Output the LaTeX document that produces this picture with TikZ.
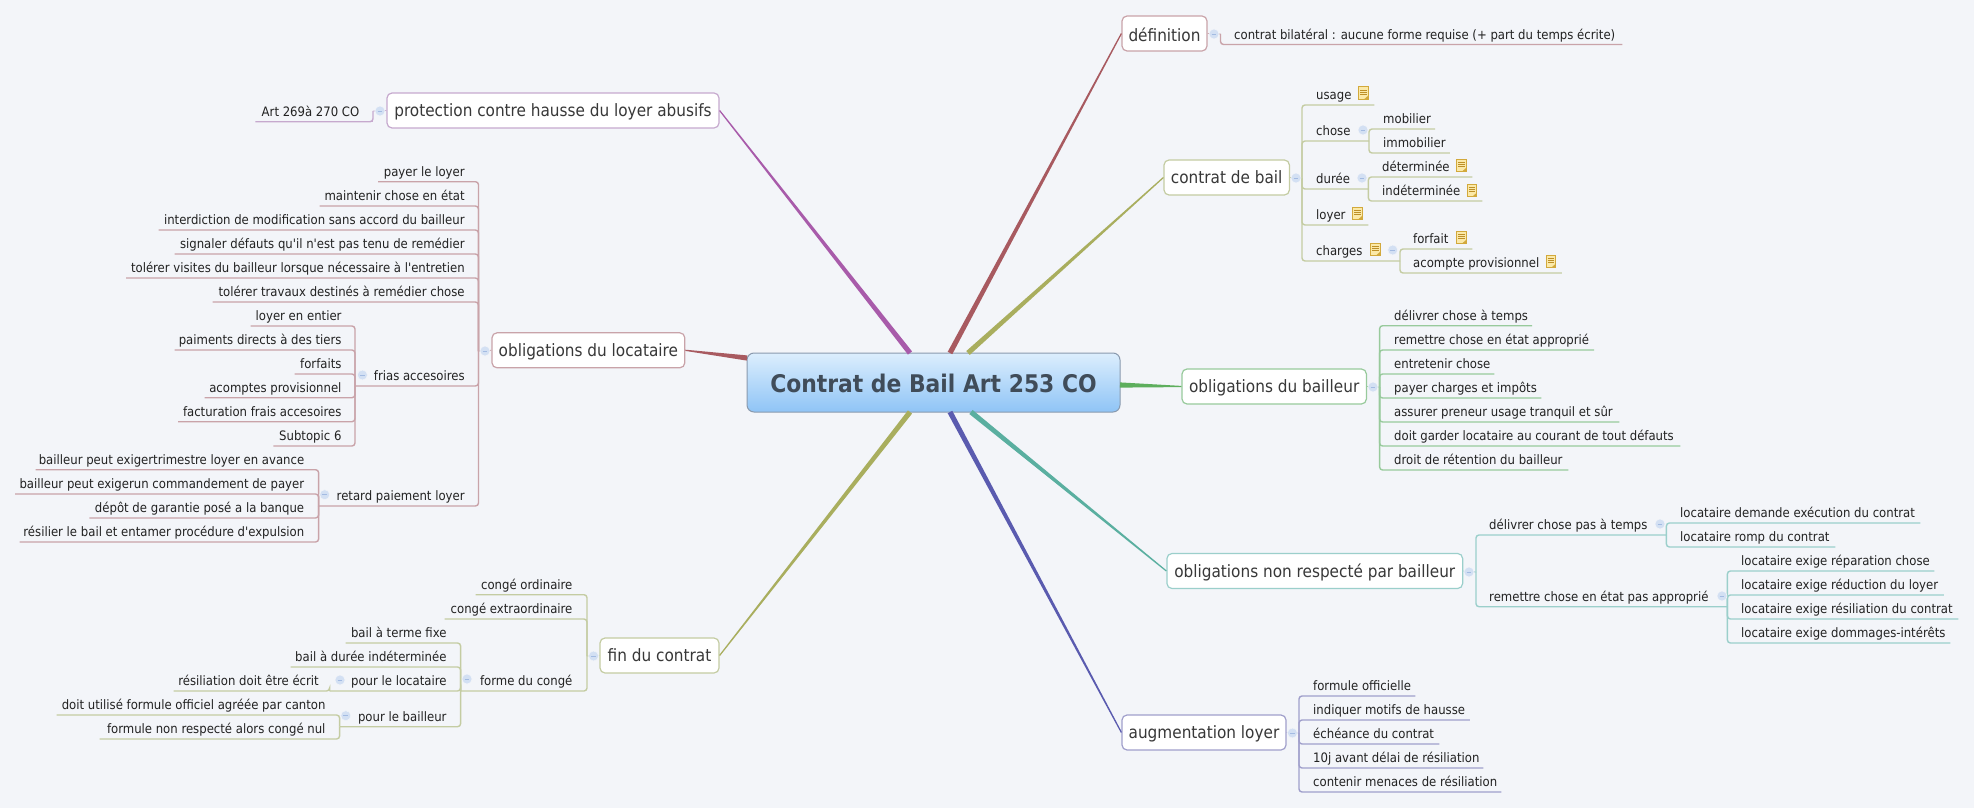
\documentclass[tikz,border=0pt]{standalone}
\usepackage{fontspec}
\setmainfont{DejaVu Sans Condensed}
\usetikzlibrary{calc}
\definecolor{bgc}{HTML}{F3F5F9}
\definecolor{txt}{HTML}{222222}
\definecolor{brR}{HTML}{A85A60}\definecolor{lnR}{HTML}{C9A3A9}
\definecolor{brP}{HTML}{A85BAA}\definecolor{lnP}{HTML}{C6A9CE}
\definecolor{brO}{HTML}{A9AE5E}\definecolor{lnO}{HTML}{C4CCA2}
\definecolor{brG}{HTML}{5DAE5D}\definecolor{lnG}{HTML}{98CA9C}
\definecolor{brT}{HTML}{5AAFA0}\definecolor{lnT}{HTML}{9BCFCB}
\definecolor{brB}{HTML}{5A5BAF}\definecolor{lnB}{HTML}{A09FCB}
\definecolor{btnf}{HTML}{D3E0F3}\definecolor{btnm}{HTML}{A3BBE2}
\definecolor{ctop}{HTML}{DCEEFD}\definecolor{cbot}{HTML}{8FC4F6}
\definecolor{cdraw}{HTML}{8A9AAE}\definecolor{ctxt}{HTML}{404C59}
\definecolor{noteb}{HTML}{D2A93C}\definecolor{notef}{HTML}{FBE9A8}\definecolor{notel}{HTML}{BD8F28}
\tikzset{
  leaf/.style={inner xsep=0pt,inner ysep=2pt,text height=9pt,text depth=3pt,text=txt,font=\fontsize{13}{15}\selectfont},
  conn/.style={draw=#1,line width=1.4pt,rounded corners=3pt},
  topic/.style={draw=#1,fill=white,line width=1.2pt,rounded corners=5pt,inner sep=0pt,text=txt!90,text height=14.5pt,text depth=2pt,font=\fontsize{17}{20}\selectfont},
  btn/.style={circle,fill=btnf,draw=bgc,line width=.5pt,minimum size=10pt,inner sep=0pt,
    path picture={\draw[color=btnm,line width=.9pt] ([xshift=-2.4pt]path picture bounding box.center) -- ([xshift=2.4pt]path picture bounding box.center);}},
  noteic/.style={rectangle,draw=noteb,fill=notef,line width=1pt,minimum width=9.5pt,minimum height=12pt,inner sep=0pt,
    path picture={\foreach \d in {3,1,-1}{\draw[color=notel,line width=.7pt] ([xshift=-3.2pt,yshift=\d pt]path picture bounding box.center) -- ([xshift=3.2pt,yshift=\d pt]path picture bounding box.center);}
      \fill[color=noteb] ([xshift=5pt,yshift=-6pt]path picture bounding box.center) -- ([xshift=1pt,yshift=-6pt]path picture bounding box.center) -- ([xshift=5pt,yshift=-2.5pt]path picture bounding box.center) -- cycle;}},
}
\newcommand\leafR[7]{\pgfmathsetmacro\lw{#5-#4}
  \node[leaf,anchor=south west] (#1) at (#4,#6) {\makebox[\lw pt][l]{#7}};
  \draw[conn=#2] (#3) |- (#1.south east);}
\newcommand\leafL[7]{\pgfmathsetmacro\lw{#4-#5}
  \node[leaf,anchor=south east] (#1) at (#4,#6) {\makebox[\lw pt][r]{#7}};
  \draw[conn=#2] (#3) |- (#1.south west);}
\newcommand\branch[3]{\fill[#1] ($(#2)!2.6pt!90:(#3)$) -- ($(#2)!2.6pt!-90:(#3)$) -- ($(#3)!.6pt!90:(#2)$) -- ($(#3)!.6pt!-90:(#2)$) -- cycle;}
\newcommand\topicnode[6]{% name colour cx cy w/h text
  \node[topic=#2,minimum width=#5,minimum height=35pt] (#1) at (#3,#4) {#6};}
\newcommand\btnnode[4]{\coordinate (#1s) at (#4); \node[btn] (#1) at (#2,#3) {};}
\begin{document}
\begin{tikzpicture}[x=1pt,y=-1pt]
\useasboundingbox (0,0) rectangle (1974,808);
\fill[bgc] (0,0) rectangle (1974,808);
% centre
\node[draw=cdraw,line width=1pt,rounded corners=7pt,top color=ctop,bottom color=cbot,
  minimum width=373pt,minimum height=59pt,inner sep=0pt,text=ctxt,text height=20pt,text depth=0pt,font=\bfseries\fontsize{24.3}{30}\selectfont] (center) at (933.5,382.5) {Contrat de Bail Art 253 CO};
\coordinate (c1) at (950,353); \coordinate (c2) at (968,353); \coordinate (c3) at (1120,385);
\coordinate (c4) at (971,412); \coordinate (c5) at (950,412); \coordinate (c6) at (910,412);
\coordinate (c7) at (747,358); \coordinate (c8) at (910,353);
% topics
\topicnode{def}{lnR}{1164.5}{33.5}{85pt}{\raisebox{-2pt}{définition}}
\topicnode{bail}{lnO}{1226.7}{177.5}{125.4pt}{contrat de bail}
\topicnode{oblb}{lnG}{1274.2}{386.5}{184.4pt}{obligations du bailleur}
\topicnode{nonr}{lnT}{1314.8}{571}{295.7pt}{obligations non respecté par bailleur}
\topicnode{aug}{lnB}{1204}{732.5}{164pt}{augmentation loyer}
\topicnode{fin}{lnO}{659.5}{655.5}{119pt}{fin du contrat}
\topicnode{oblo}{lnR}{588.4}{350.3}{192.8pt}{obligations du locataire}
\topicnode{prot}{lnP}{553}{110.5}{332pt}{protection contre hausse du loyer abusifs}
% branches
\branch{brR}{c1}{def.west}
\branch{brO}{c2}{bail.west}
\branch{brG}{c3}{oblb.west}
\branch{brT}{c4}{nonr.west}
\branch{brB}{c5}{aug.west}
\branch{brO}{c6}{fin.east}
\branch{brR}{c7}{oblo.east}
\branch{brP}{c8}{prot.east}
% definition
\coordinate (s1) at (1220.5,34);
\draw[lnR,line width=.8pt] (def.east) -- (s1);
\leafR{d1}{lnR}{s1}{1234}{1622}{44.5}{contrat bilatéral : aucune forme requise (+ part du temps écrite)}
\btnnode{bd}{1214}{34}{s1}
% contrat de bail
\coordinate (s2) at (1302,178);
\draw[lnO,line width=.8pt] (bail.east) -- (s2);
\leafR{b1}{lnO}{s2}{1316}{1374}{105}{usage}
\leafR{b2}{lnO}{s2}{1316}{1368.6}{141}{chose}
\leafR{b3}{lnO}{s2}{1316}{1368}{189}{durée}
\leafR{b4}{lnO}{s2}{1316}{1368}{225}{loyer}
\leafR{b5}{lnO}{s2}{1316}{1399.6}{261}{charges}
\leafR{b21}{lnO}{b2.south east}{1383}{1434.7}{129}{mobilier}
\leafR{b22}{lnO}{b2.south east}{1383}{1449.5}{153}{immobilier}
\leafR{b31}{lnO}{b3.south east}{1382}{1472}{177}{déterminée}
\leafR{b32}{lnO}{b3.south east}{1382}{1482}{201}{indéterminée}
\leafR{b51}{lnO}{b5.south east}{1413}{1472}{249}{forfait}
\leafR{b52}{lnO}{b5.south east}{1413}{1561.4}{273}{acompte provisionnel}
\btnnode{bb}{1296}{178}{s2}
\btnnode{bb2}{1363}{130}{b2.south east}
\btnnode{bb3}{1362}{178}{b3.south east}
\btnnode{bb5}{1392.7}{250}{b5.south east}
\node[noteic] (n1) at (1363.4,93) {};
\node[noteic] (n2) at (1461.6,165) {};
\node[noteic] (n3) at (1472,190) {};
\node[noteic] (n4) at (1357.6,213) {};
\node[noteic] (n5) at (1375.5,249) {};
\node[noteic] (n6) at (1461.6,237) {};
\node[noteic] (n7) at (1551,261) {};
% obligations bailleur
\coordinate (s3) at (1379.6,387);
\draw[lnG,line width=.8pt] (oblb.east) -- (s3);
\leafR{g1}{lnG}{s3}{1394}{1531.7}{325.7}{délivrer chose à temps}
\leafR{g2}{lnG}{s3}{1394}{1593.6}{350}{remettre chose en état approprié}
\leafR{g3}{lnG}{s3}{1394}{1494}{374}{entretenir chose}
\leafR{g4}{lnG}{s3}{1394}{1541}{398}{payer charges et impôts}
\leafR{g5}{lnG}{s3}{1394}{1619}{422}{assurer preneur usage tranquil et sûr}
\leafR{g6}{lnG}{s3}{1394}{1680}{446}{doit garder locataire au courant de tout défauts}
\leafR{g7}{lnG}{s3}{1394}{1568}{470}{droit de rétention du bailleur}
\btnnode{bg}{1373}{387}{s3}
% non respecte
\coordinate (s4) at (1476,572);
\draw[lnT,line width=.8pt] (nonr.east) -- (s4);
\leafR{t1}{lnT}{s4}{1489}{1666}{535}{délivrer chose pas à temps}
\leafR{t2}{lnT}{s4}{1489}{1727}{606.7}{remettre chose en état pas approprié}
\leafR{t11}{lnT}{t1.south east}{1680}{1920}{523}{locataire demande exécution du contrat}
\leafR{t12}{lnT}{t1.south east}{1680}{1835}{547}{locataire romp du contrat}
\leafR{t21}{lnT}{t2.south east}{1741}{1934}{571}{locataire exige réparation chose}
\leafR{t22}{lnT}{t2.south east}{1741}{1943.5}{595}{locataire exige réduction du loyer}
\leafR{t23}{lnT}{t2.south east}{1741}{1958}{619}{locataire exige résiliation du contrat}
\leafR{t24}{lnT}{t2.south east}{1741}{1950}{643}{locataire exige dommages-intérêts}
\btnnode{bt}{1469}{572}{s4}
\btnnode{bt1}{1660}{524}{t1.south east}
\btnnode{bt2}{1722}{596}{t2.south east}
% augmentation
\coordinate (s5) at (1299,733);
\draw[lnB,line width=.8pt] (aug.east) -- (s5);
\leafR{a1}{lnB}{s5}{1313}{1415}{696}{formule officielle}
\leafR{a2}{lnB}{s5}{1313}{1469.5}{720}{indiquer motifs de hausse}
\leafR{a3}{lnB}{s5}{1313}{1439}{744}{échéance du contrat}
\leafR{a4}{lnB}{s5}{1313}{1483}{768}{10j avant délai de résiliation}
\leafR{a5}{lnB}{s5}{1313}{1501}{792}{contenir menaces de résiliation}
\btnnode{ba}{1292.4}{733}{s5}
% protection
\coordinate (s6) at (373,111);
\draw[lnP,line width=.8pt] (prot.west) -- (s6);
\leafL{p1}{lnP}{s6}{359.6}{255.8}{121.7}{Art 269à 270 CO}
\draw[lnP,line width=1.4pt] (p1.south east) -- (s6|-p1.south east);
\btnnode{bp}{380}{111}{s6}
% obligations locataire
\coordinate (s7) at (478.5,351);
\draw[lnR,line width=.8pt] (oblo.west) -- (s7);
\leafL{l1}{lnR}{s7}{464.8}{378.5}{181.7}{payer le loyer}
\leafL{l2}{lnR}{s7}{464.8}{320}{206}{maintenir chose en état}
\leafL{l3}{lnR}{s7}{464.8}{159}{230}{interdiction de modification sans accord du bailleur}
\leafL{l4}{lnR}{s7}{464.8}{175}{254}{signaler défauts qu\textquotesingle il n\textquotesingle est pas tenu de remédier}
\leafL{l5}{lnR}{s7}{464.8}{126.5}{278}{tolérer visites du bailleur lorsque nécessaire à l\textquotesingle entretien}
\leafL{l6}{lnR}{s7}{464.8}{213}{302}{tolérer travaux destinés à remédier chose}
\leafL{l7}{lnR}{s7}{464.8}{355.4}{386}{frias accesoires}
\leafL{l8}{lnR}{s7}{464.8}{319}{506}{retard paiement loyer}
\leafL{l71}{lnR}{l7.south west}{341.7}{251}{326}{loyer en entier}
\leafL{l72}{lnR}{l7.south west}{341.7}{175}{350}{paiments directs à des tiers}
\leafL{l73}{lnR}{l7.south west}{341.7}{295}{374}{forfaits}
\leafL{l74}{lnR}{l7.south west}{341.7}{205}{397.7}{acomptes provisionnel}
\leafL{l75}{lnR}{l7.south west}{341.7}{178.4}{421.7}{facturation frais accesoires}
\leafL{l76}{lnR}{l7.south west}{341.7}{273.7}{446}{Subtopic 6}
\leafL{l81}{lnR}{l8.south west}{304.4}{36}{469.7}{bailleur peut exigertrimestre loyer en avance}
\leafL{l82}{lnR}{l8.south west}{304.4}{15.6}{494}{bailleur peut exigerun commandement de payer}
\leafL{l83}{lnR}{l8.south west}{304.4}{89.7}{518}{dépôt de garantie posé a la banque}
\leafL{l84}{lnR}{l8.south west}{304.4}{20}{542}{résilier le bail et entamer procédure d\textquotesingle expulsion}
\btnnode{bl}{485}{351}{s7}
\btnnode{bl7}{362.4}{375}{l7.south west}
\btnnode{bl8}{324.7}{494.7}{l8.south west}
% fin du contrat
\coordinate (s8) at (587,656);
\draw[lnO,line width=.8pt] (fin.west) -- (s8);
\leafL{f1}{lnO}{s8}{572.6}{476}{594.7}{congé ordinaire}
\leafL{f2}{lnO}{s8}{572.6}{445}{619}{congé extraordinaire}
\leafL{f3}{lnO}{s8}{572.6}{461}{691}{forme du congé}
\leafL{f31}{lnO}{f3.south west}{446.7}{346}{643}{bail à terme fixe}
\leafL{f32}{lnO}{f3.south west}{446.7}{291}{667}{bail à durée indéterminée}
\leafL{f33}{lnO}{f3.south west}{446.7}{330}{691}{pour le locataire}
\leafL{f34}{lnO}{f3.south west}{446.7}{340}{726.7}{pour le bailleur}
\leafL{f331}{lnO}{f33.south west}{319}{174}{691}{résiliation doit être écrit}
\leafL{f341}{lnO}{f34.south west}{325.7}{57}{715}{doit utilisé formule officiel agréée par canton}
\leafL{f342}{lnO}{f34.south west}{325.7}{100}{739}{formule non respecté alors congé nul}
\btnnode{bf}{593.6}{656}{s8}
\btnnode{bf3}{467}{679}{f3.south west}
\btnnode{bf33}{340}{680}{f33.south west}
\btnnode{bf34}{345.8}{715.7}{f34.south west}
\end{tikzpicture}
\end{document}
